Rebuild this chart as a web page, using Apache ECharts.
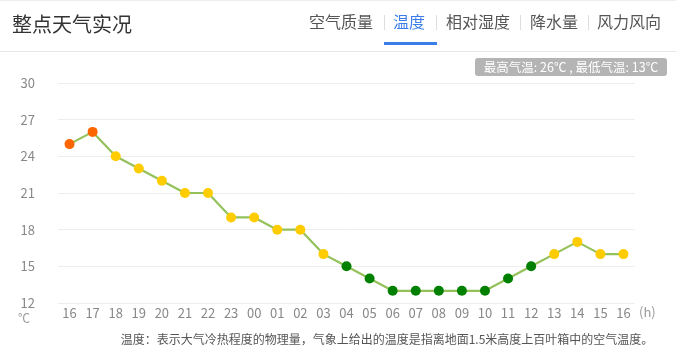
<!DOCTYPE html>
<html>
<head>
<meta charset="utf-8">
<script src="https://cdn.jsdelivr.net/npm/echarts@6/dist/echarts.min.js"></script>
<style>
  html, body { margin: 0; padding: 0; background: #fff; }
  #tempChart { width: 676px; height: 359px; }
</style>
</head>
<body>
<div id="tempChart"></div>
<script>
  // 整点温度
  var hours = ['16','17','18','19','20','21','22','23','00','01','02','03','04',
               '05','06','07','08','09','10','11','12','13','14','15','16'];
  var temps = [25, 26, 24, 23, 22, 21, 21, 19, 19, 18, 18, 16, 15,
               14, 13, 13, 13, 13, 13, 14, 15, 16, 17, 16, 16];
  var tabs = ['空气质量', '温度', '相对湿度', '降水量', '风力风向'];
  var tabX = [309, 393, 446, 530, 597];
  var sepX = [384, 436, 520, 588];

  var font = '"Noto Sans CJK SC", sans-serif';
  var myChart = echarts.init(document.getElementById('tempChart'));

  var graphics = [
    { type: 'rect', shape: { x: 0, y: 0, width: 676, height: 1 }, style: { fill: '#eee' } },
    { type: 'text', left: 12, top: 14, style: { text: '整点天气实况', fontSize: 20, fill: '#333', fontFamily: font } },
    { type: 'rect', shape: { x: 0, y: 51, width: 676, height: 1 }, style: { fill: '#e6e6e6' } },
    { type: 'rect', shape: { x: 384, y: 42, width: 53, height: 3 }, style: { fill: '#3b7de9' } },
    { type: 'rect', shape: { x: 475, y: 58, width: 192, height: 18, r: 3 }, style: { fill: '#b4b4b4' } },
    { type: 'text', x: 571, y: 67, style: { text: '最高气温: 26℃ , 最低气温: 13℃', fontSize: 12.5, fill: '#fff',
        align: 'center', verticalAlign: 'middle', fontFamily: font } },
    { type: 'text', x: 24, y: 318, style: { text: '℃', fontSize: 12, fill: '#999', align: 'center', verticalAlign: 'middle', fontFamily: font } },
    { type: 'text', x: 387, y: 339, style: { text: '温度：表示大气冷热程度的物理量，气象上给出的温度是指离地面1.5米高度上百叶箱中的空气温度。',
        fontSize: 12, fill: '#555', align: 'center', verticalAlign: 'middle', fontFamily: font } }
  ];
  tabs.forEach(function (t, i) {
    graphics.push({ type: 'text', x: tabX[i], y: 22, style: { text: t, fontSize: 16,
      fill: i === 1 ? '#3b7de9' : '#555', verticalAlign: 'middle', fontFamily: font } });
  });
  sepX.forEach(function (x) {
    graphics.push({ type: 'rect', shape: { x: x, y: 15, width: 1, height: 15 }, style: { fill: '#ddd' } });
  });

  var option = {
    animation: false,
    textStyle: { fontFamily: font },
    graphic: graphics,
    grid: { left: 58, right: 41, top: 83, bottom: 56 },
    xAxis: {
      type: 'category',
      data: hours,
      boundaryGap: true,
      name: '(h)',
      nameLocation: 'end',
      nameGap: 4,
      nameTextStyle: { color: '#999', fontSize: 13, verticalAlign: 'top', padding: [3, 0, 0, 0] },
      axisLine: { show: false },
      axisTick: { show: false },
      axisLabel: { color: '#888', fontSize: 13, margin: 4, interval: 0 }
    },
    yAxis: {
      type: 'value',
      min: 12,
      max: 30,
      interval: 3,
      axisLine: { show: false },
      axisTick: { show: false },
      axisLabel: { color: '#888', fontSize: 13, margin: 23 },
      splitLine: { lineStyle: { color: '#eee', width: 1 } }
    },
    series: [{
      name: '温度',
      type: 'line',
      data: temps,
      symbol: 'circle',
      symbolSize: 10,
      lineStyle: { color: '#94c15a', width: 2.2 },
      itemStyle: {
        color: function (p) {
          if (p.value >= 25) return '#ff6600';
          if (p.value >= 16) return '#ffcc00';
          return '#008000';
        }
      }
    }]
  };
  myChart.setOption(option, true);
</script>
</body>
</html>
